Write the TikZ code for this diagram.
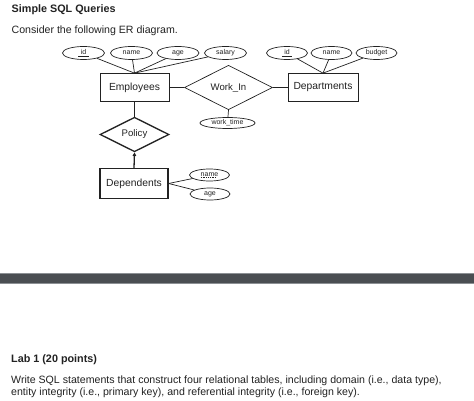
\documentclass[tikz,border=0pt]{standalone}
\usepackage{fontspec}
\setmainfont{Liberation Sans}
\usetikzlibrary{shapes.geometric,arrows.meta}
\definecolor{ink}{HTML}{222222}
\definecolor{barc}{HTML}{4A4E52}
\definecolor{baredge}{HTML}{8C9094}
\newcommand{\keyul}[1]{\underline{\kern2.5pt #1\kern2.5pt}}
\newcommand{\dashul}[1]{\setbox0\hbox{#1}\rlap{\raisebox{-1.3pt}{\hbox to\wd0{\leaders\hbox{\rule{1pt}{0.4pt}\kern0.8pt}\hfill}}}\box0}
\begin{document}
\begin{tikzpicture}[x=1pt,y=-1pt,
  txt/.style={anchor=base west,inner sep=0pt,text=ink,font=\fontsize{10.6}{13}\selectfont},
  btxt/.style={txt,font=\fontsize{10.8}{13}\selectfont\bfseries},
  attr/.style={draw=ink,ellipse,line width=0.7pt,minimum width=42pt,minimum height=13pt,inner sep=0pt,text=ink,font=\fontsize{7}{8}\selectfont},
  ent/.style={draw=ink,rectangle,line width=0.7pt,minimum width=69pt,minimum height=28pt,inner sep=0pt,text=ink,font=\fontsize{10.3}{12}\selectfont},
  rel/.style={draw=ink,diamond,line width=0.7pt,minimum width=88pt,minimum height=32pt,inner sep=0pt,text=ink,font=\fontsize{9.6}{12}\selectfont},
  conn/.style={draw=ink,line width=0.7pt}]
\useasboundingbox (0,0) rectangle (474,401);
\fill[white] (0,0) rectangle (474,401);
% headings
\node[btxt] (title) at (11.5,12.7) {Simple SQL Queries};
\node[txt] (intro) at (11.5,33.3) {Consider the following ER diagram.};
% entities
\node[ent] (emp) at (134.5,87.5) {Employees};
\node[ent,minimum width=70pt] (dep) at (323,87.5) {Departments};
\node[rel] (work) at (228.5,87.5) {Work\_In};
\node[ent,line width=1.3pt,minimum width=68pt,minimum height=30pt] (dpd) at (134,183.5) {Dependents};
\node[rel,line width=1.3pt,minimum width=69pt,minimum height=33pt] (pol) at (134.5,134.5) {Policy};
% attributes
\node[attr] (eid) at (83.5,53) {\keyul{id}};
\node[attr] (ename) at (131.5,53) {name};
\node[attr] (eage) at (178,53) {age};
\node[attr] (esal) at (225.5,53) {salary};
\node[attr,minimum width=41pt] (did) at (287,53) {\keyul{id}};
\node[attr,minimum width=41pt] (dname) at (331.5,53) {name};
\node[attr,minimum width=41pt] (dbud) at (376.5,53) {budget};
\node[attr,minimum width=55pt,minimum height=11pt] (wt) at (227.5,123) {work\_time};
\node[attr,minimum width=40pt,minimum height=12pt] (pname) at (209.5,175) {\dashul{name}};
\node[attr,minimum width=40pt,minimum height=12pt] (page) at (210,194) {age};
% connectors
\foreach \a in {eid,ename,eage,esal} \draw[conn] (\a) -- (emp.north);
\foreach \a in {did,dname,dbud} \draw[conn] (\a) -- (dep.north);
\draw[conn] (emp) -- (work);
\draw[conn] (work) -- (dep);
\draw[conn] (work.south) -- (wt);
\draw[conn] (emp.south) -- (pol.north);
\draw[draw=ink,line width=1.3pt,-{Triangle[length=3.5pt,width=3.5pt]}] (dpd.north) -- (pol.south);
\draw[conn] (dpd.east) -- (pname);
\draw[conn] (dpd.east) -- (page);
% bar
\fill[barc] (0,273.5) rectangle (474,283.5);
\draw[baredge,line width=0.8pt] (0,273.8) -- (474,273.8);
\draw[baredge,line width=0.8pt] (0,283.2) -- (474,283.2);
% lab text
\node[btxt] (lab) at (11,362.3) {Lab 1 (20 points)};
\node[txt] (l1) at (11,383.3) {Write SQL statements that construct four relational tables, including domain (i.e., data type),};
\node[txt] (l2) at (11,395.7) {entity integrity (i.e., primary key), and referential integrity (i.e., foreign key).};
\end{tikzpicture}
\end{document}
